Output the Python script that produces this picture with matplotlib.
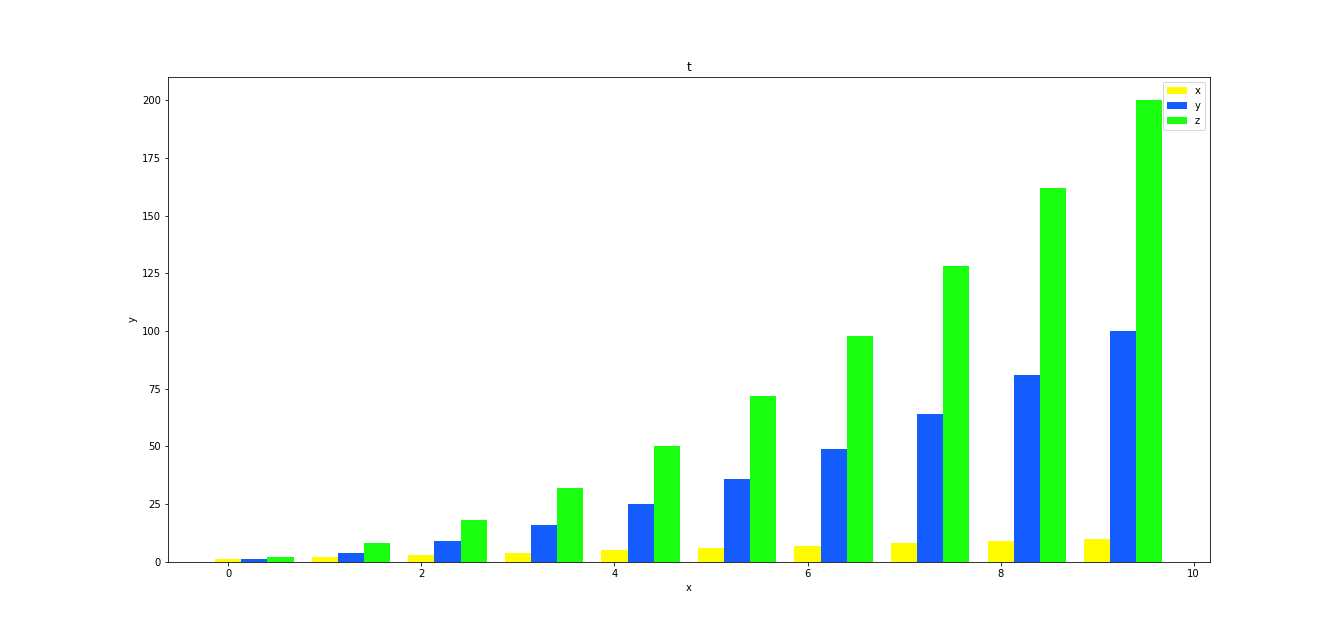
import numpy as np
import matplotlib.pyplot as plt

positions = [0, 1, 2, 3, 4, 5, 6, 7, 8, 9]
x_vals = [1, 2, 3, 4, 5, 6, 7, 8, 9, 10]
y_vals = [1, 4, 9, 16, 25, 36, 49, 64, 81, 100]
z_vals = [2, 8, 18, 32, 50, 72, 98, 128, 162, 200]

width = 0.27
pos = np.array(positions, dtype=float)

fig = plt.figure(figsize=(1344 / 72, 642 / 72), dpi=72)
ax = fig.add_subplot(111)
fig.subplots_adjust(left=0.125, right=0.9, top=0.88, bottom=0.125)

ax.bar(pos, x_vals, width, color="#fffb00", label="x")
ax.bar(pos + width, y_vals, width, color="#155cff", label="y")
ax.bar(pos + 2 * width, z_vals, width, color="#1aff0f", label="z")

ax.set_title("t")
ax.set_xlabel("x")
ax.set_ylabel("y")
ax.legend(loc="upper right")

fig.savefig("out.png", dpi=72)
